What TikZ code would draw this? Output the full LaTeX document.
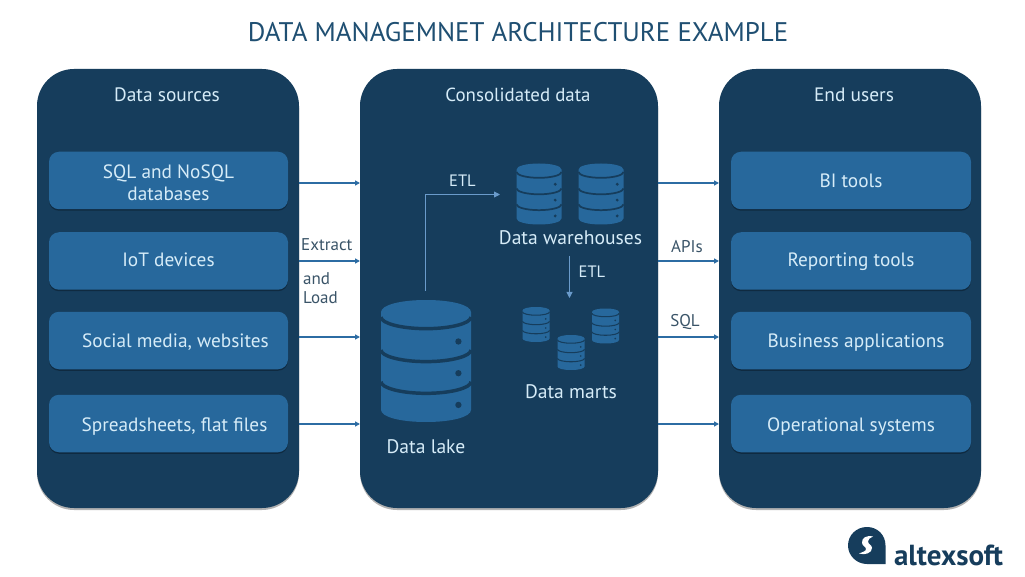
\documentclass[tikz,border=0pt]{standalone}
\usepackage{fontspec}
\setmainfont{PT Sans}
\usetikzlibrary{arrows.meta,shadows}
\definecolor{paneldark}{HTML}{163D5C}
\definecolor{boxmid}{HTML}{27689C}
\definecolor{lighttext}{HTML}{D6ECF8}
\definecolor{titleblue}{HTML}{1F4F72}
\definecolor{greytext}{HTML}{3A5468}
\definecolor{arrowblue}{HTML}{2C6CA3}
\definecolor{etlblue}{HTML}{6A9BCB}
\newcommand{\fs}[1]{\fontsize{#1}{#1}\selectfont}
% baseline offset below the box centre, text
\newcommand{\lab}[2]{\makebox[0pt]{\raisebox{\dimexpr-#1pt\relax}[0pt][0pt]{#2}}}
% x, top y, width, height
\newcommand{\dbicon}[4]{%
  \pgfmathsetmacro{\dblw}{#3/26}%
  \begin{scope}[shift={(#1,#2)},xscale=#3/100,yscale=#4/100]
    \fill[boxmid] (0,10) .. controls (0,4) and (22,0) .. (50,0) .. controls (78,0) and (100,4) .. (100,10)
      -- (100,90) .. controls (100,96) and (78,100) .. (50,100) .. controls (22,100) and (0,96) .. (0,90) -- cycle;
    \foreach \a in {14,41,67}{
      \draw[paneldark,line width=\dblw pt] (0,\a) .. controls (0,\a+5) and (22,\a+9.5) .. (50,\a+9.5) .. controls (78,\a+9.5) and (100,\a+5) .. (100,\a);
    }
    \foreach \d in {34,60,86}{
      \fill[paneldark] (86,\d) ellipse [x radius=3.5,y radius=2.6];
    }
  \end{scope}}
\tikzset{
  x=1pt,y=-1pt,
  panel/.style={fill=paneldark,rounded corners=37pt,inner sep=0pt,outer sep=0pt,minimum width=#1,minimum height=439pt,
    drop shadow={shadow xshift=0pt,shadow yshift=-2pt,opacity=.3,fill=black}},
  itembox/.style={fill=boxmid,rounded corners=10pt,inner sep=0pt,outer sep=0pt,minimum width=#1,minimum height=57.5pt,
    text=lighttext,font=\fs{19.3},
    drop shadow={shadow xshift=0pt,shadow yshift=-1.5pt,opacity=.3,fill=black}},
  head/.style={text=lighttext,font=\fs{19.4},inner sep=0pt},
  cap label/.style={text=lighttext,font=\fs{19.6},inner sep=0pt},
  side label/.style={text=greytext,font=\fs{17},inner sep=0pt},
  etl label/.style={text=lighttext,font=\fs{16.5},inner sep=0pt},
  link/.style={draw=arrowblue,line width=1.4pt,-{Triangle[length=5pt,width=5pt]}},
  etl/.style={draw=etlblue,line width=.9pt,-{Triangle[length=6pt,width=6pt]}},
}
\begin{document}
\begin{tikzpicture}
\useasboundingbox[fill=white] (0,0) rectangle (1025,577);
\node (title) at (518,32) [text=titleblue,font=\fs{26.9},inner sep=0pt] {DATA MANAGEMNET ARCHITECTURE EXAMPLE};
% panels
\node[panel=262pt] (sources) at (168,288.5) {};
\node[panel=298pt] (consolidated) at (509,288.5) {};
\node[panel=262pt] (users) at (850,288.5) {};
\node[head] (hs) at (167,94.5) {Data sources};
\node[head] (hc) at (518,94.5) {\fs{18.9}Consolidated data};
\node[head] (hu) at (854,94.5) {End users};
% left boxes
\node[itembox=239pt] (s1) at (168.5,180.5) {\lab{-2}{SQL and NoSQL}\lab{20}{databases}};
\node[itembox=239pt] (s2) at (168.5,261) {\lab{5.5}{IoT devices}};
\node[itembox=239pt] (s3) at (168.5,340.5) {\lab{7}{\hspace*{14pt}Social media, websites}};
\node[itembox=239pt] (s4) at (168.5,423.5) {\lab{8}{\hspace*{12pt}Spreadsheets, flat files}};
% right boxes
\node[itembox=240pt] (u1) at (851,180.5) {\lab{7}{BI tools}};
\node[itembox=240pt] (u2) at (851,261) {\lab{5.5}{Reporting tools}};
\node[itembox=240pt] (u3) at (851,340.5) {\lab{7}{\hspace*{10pt}Business applications}};
\node[itembox=240pt] (u4) at (851,423.5) {\lab{8}{Operational systems}};
% row levels of the connectors
\coordinate (r1) at (0,183);
\coordinate (r2) at (0,261);
\coordinate (r3) at (0,337);
\coordinate (r4) at (0,424);
\foreach \r in {r1,r2,r3,r4}{
  \draw[link] (\r -| sources.east) -- (\r -| consolidated.west);
  \draw[link] (\r -| consolidated.east) -- (\r -| users.west);
}
\node[side label,anchor=west] (lx) at (301,245) {Extract};
\node[side label,anchor=west] (la) at (303,278.5) {and};
\node[side label,anchor=west] (ll) at (303,297.5) {Load};
\node[side label] (lapi) at (687,247) {APIs};
\node[side label] (lsql) at (685,322) {SQL};
% icons
\dbicon{381}{300}{90}{122}
\dbicon{516.5}{163.5}{45}{61}
\dbicon{578.5}{163.5}{45}{61}
\dbicon{522.5}{307}{27}{35}
\dbicon{557.5}{335}{27}{35}
\dbicon{592}{308.5}{27}{35}
\coordinate (lakeTop) at (425.5,291);
\coordinate (etlBend) at (425.5,194.5);
\coordinate (whIn) at (500,194.5);
\coordinate (whOut) at (569.5,256);
\coordinate (martIn) at (569.5,298);
\draw[etl] (lakeTop) -- (etlBend) -- (whIn);
\draw[etl] (whOut) -- (martIn);
\node[etl label] (e1) at (462.5,180.5) {ETL};
\node[etl label] (e2) at (592,271.5) {ETL};
\node[cap label] (cw) at (570.5,238) {Data warehouses};
\node[cap label] (cm) at (571,391.5) {Data marts};
\node[cap label] (cl) at (426,446.5) {Data lake};
% logo
\fill[paneldark] (885.5,564) -- (867,564) .. controls (856.5,564) and (848,555.5) .. (848,545.5)
  .. controls (848,535) and (856.5,527) .. (867,527) .. controls (877.5,527) and (885.5,535) .. (885.5,545.5) -- cycle;
\fill[white] (873,536.5) .. controls (866,535) and (862,538) .. (862,542.5) .. controls (862,546) and (866,546.5) .. (866,549)
  .. controls (866,551) and (863,552) .. (859,553.5) .. controls (865,555.5) and (872,553) .. (872,548)
  .. controls (872,545) and (868,544) .. (868,541.5) .. controls (868,539) and (870,538) .. (873,536.5) -- cycle;
\node (brand) at (948.5,555.5) [text=paneldark,font=\fs{29}\bfseries,inner sep=0pt] {altexsoft};
\end{tikzpicture}
\end{document}
